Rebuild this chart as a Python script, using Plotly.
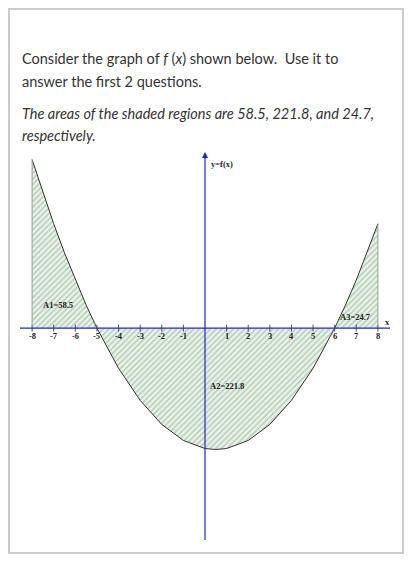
import plotly.graph_objects as go

xs = [-8,-7.5,-7,-6.5,-6,-5.5,-5,-4,-3,-2,-1,0,0.5,1,2,3,4,5,6,6.5,7,7.5,8]
ys = [42,33.75,26,18.75,12,5.75,0,-10,-18,-24,-28,-30,-30.25,-30,-28,-24,-18,-10,0,5.75,12,18.75,26]
ticks = [-8,-7,-6,-5,-4,-3,-2,-1,1,2,3,4,5,6,7,8]
area_labels = ["A1=58.5", "A2=221.8", "A3=24.7"]
area_pos = [(-6.8, 5.7), (1.0, -14.4), (6.95, 2.7)]

OFF = 8
W, H = 412-2*OFF, 562-2*OFF
L, R, T, B = 20-OFF, 22-OFF, 152-OFF, 22-OFF
PW, PH = W-L-R, H-T-B
def px(xp): return (xp-OFF-L)/PW
def py(yp): return (H-B-(yp-OFF))/PH

fig = go.Figure()
fig.add_trace(go.Scatter(x=xs, y=ys, mode="lines", line=dict(color="#333", width=1),
    fill="tozeroy", fillcolor="rgba(220,235,220,0.6)",
    fillpattern=dict(shape="/", fgcolor="#7f9f7f", bgcolor="rgba(232,242,232,1)", size=4, solidity=0.35)))
fig.add_trace(go.Scatter(x=ticks, y=[0]*len(ticks), mode="markers",
    marker=dict(symbol="line-ns", size=5, line=dict(color="#555", width=1))))
fig.add_trace(go.Scatter(x=[-8, -8], y=[0, 42], mode="lines", line=dict(color="#8aa88a", width=1)))
fig.add_trace(go.Scatter(x=[8, 8], y=[0, 26], mode="lines", line=dict(color="#8aa88a", width=1)))

sf = dict(family="Liberation Serif", size=8.5, color="#222")
ann = []
for t in ticks:
    ann.append(dict(x=t, y=0, yshift=-8, text="<b>%d</b>" % t, showarrow=False, font=sf))
for lab, (ax, ay) in zip(area_labels, area_pos):
    ann.append(dict(x=ax, y=ay, text="<b>%s</b>" % lab, showarrow=False, font=sf))
ann.append(dict(x=8.45, y=0, yshift=6, text="<b>x</b>", showarrow=False, font=sf))
ann.append(dict(xref="paper", yref="paper", x=px(209), y=py(157), xanchor="left",
    text="<b>y=f(x)</b>", showarrow=False, font=sf))
tf = dict(family="Lato", size=14.5, color="#333")
ann += [
    dict(xref="paper", yref="paper", x=px(20), y=py(48), xanchor="left", showarrow=False, font=tf,
         text="Consider the graph of <i>f</i> (<i>x</i>) shown below.  Use it to"),
    dict(xref="paper", yref="paper", x=px(20), y=py(71), xanchor="left", showarrow=False, font=tf,
         text="answer the first 2 questions."),
    dict(xref="paper", yref="paper", x=px(20), y=py(103), xanchor="left", showarrow=False, font=tf,
         text="<i>The areas of the shaded regions are 58.5, 221.8, and 24.7,</i>"),
    dict(xref="paper", yref="paper", x=px(20), y=py(125), xanchor="left", showarrow=False, font=tf,
         text="<i>respectively.</i>"),
]
shapes = [
    dict(type="line", x0=-8.6, x1=8.6, y0=0, y1=0, line=dict(color="#2222dd", width=1.2)),
    dict(type="line", xref="paper", yref="paper", x0=px(205), x1=px(205), y0=0, y1=py(154), line=dict(color="#2222dd", width=1.2)),
    dict(type="rect", xref="paper", yref="paper", x0=px(9), x1=px(403), y0=py(553), y1=py(9), line=dict(color="#ccc", width=2)),
]
ann.append(dict(xref="paper", yref="paper", x=px(205), y=py(152), ax=0, ay=8, showarrow=True,
    arrowhead=2, arrowsize=1, arrowwidth=1.2, arrowcolor="#2222dd", text=""))

fig.update_layout(width=W, height=H, margin=dict(l=L, r=R, t=T, b=B),
    paper_bgcolor="white", plot_bgcolor="white", showlegend=False,
    xaxis=dict(range=[-8.56, 8.56], visible=False),
    yaxis=dict(range=[-52.8, 43.9], visible=False),
    annotations=ann, shapes=shapes)
fig.write_html("out.html")
